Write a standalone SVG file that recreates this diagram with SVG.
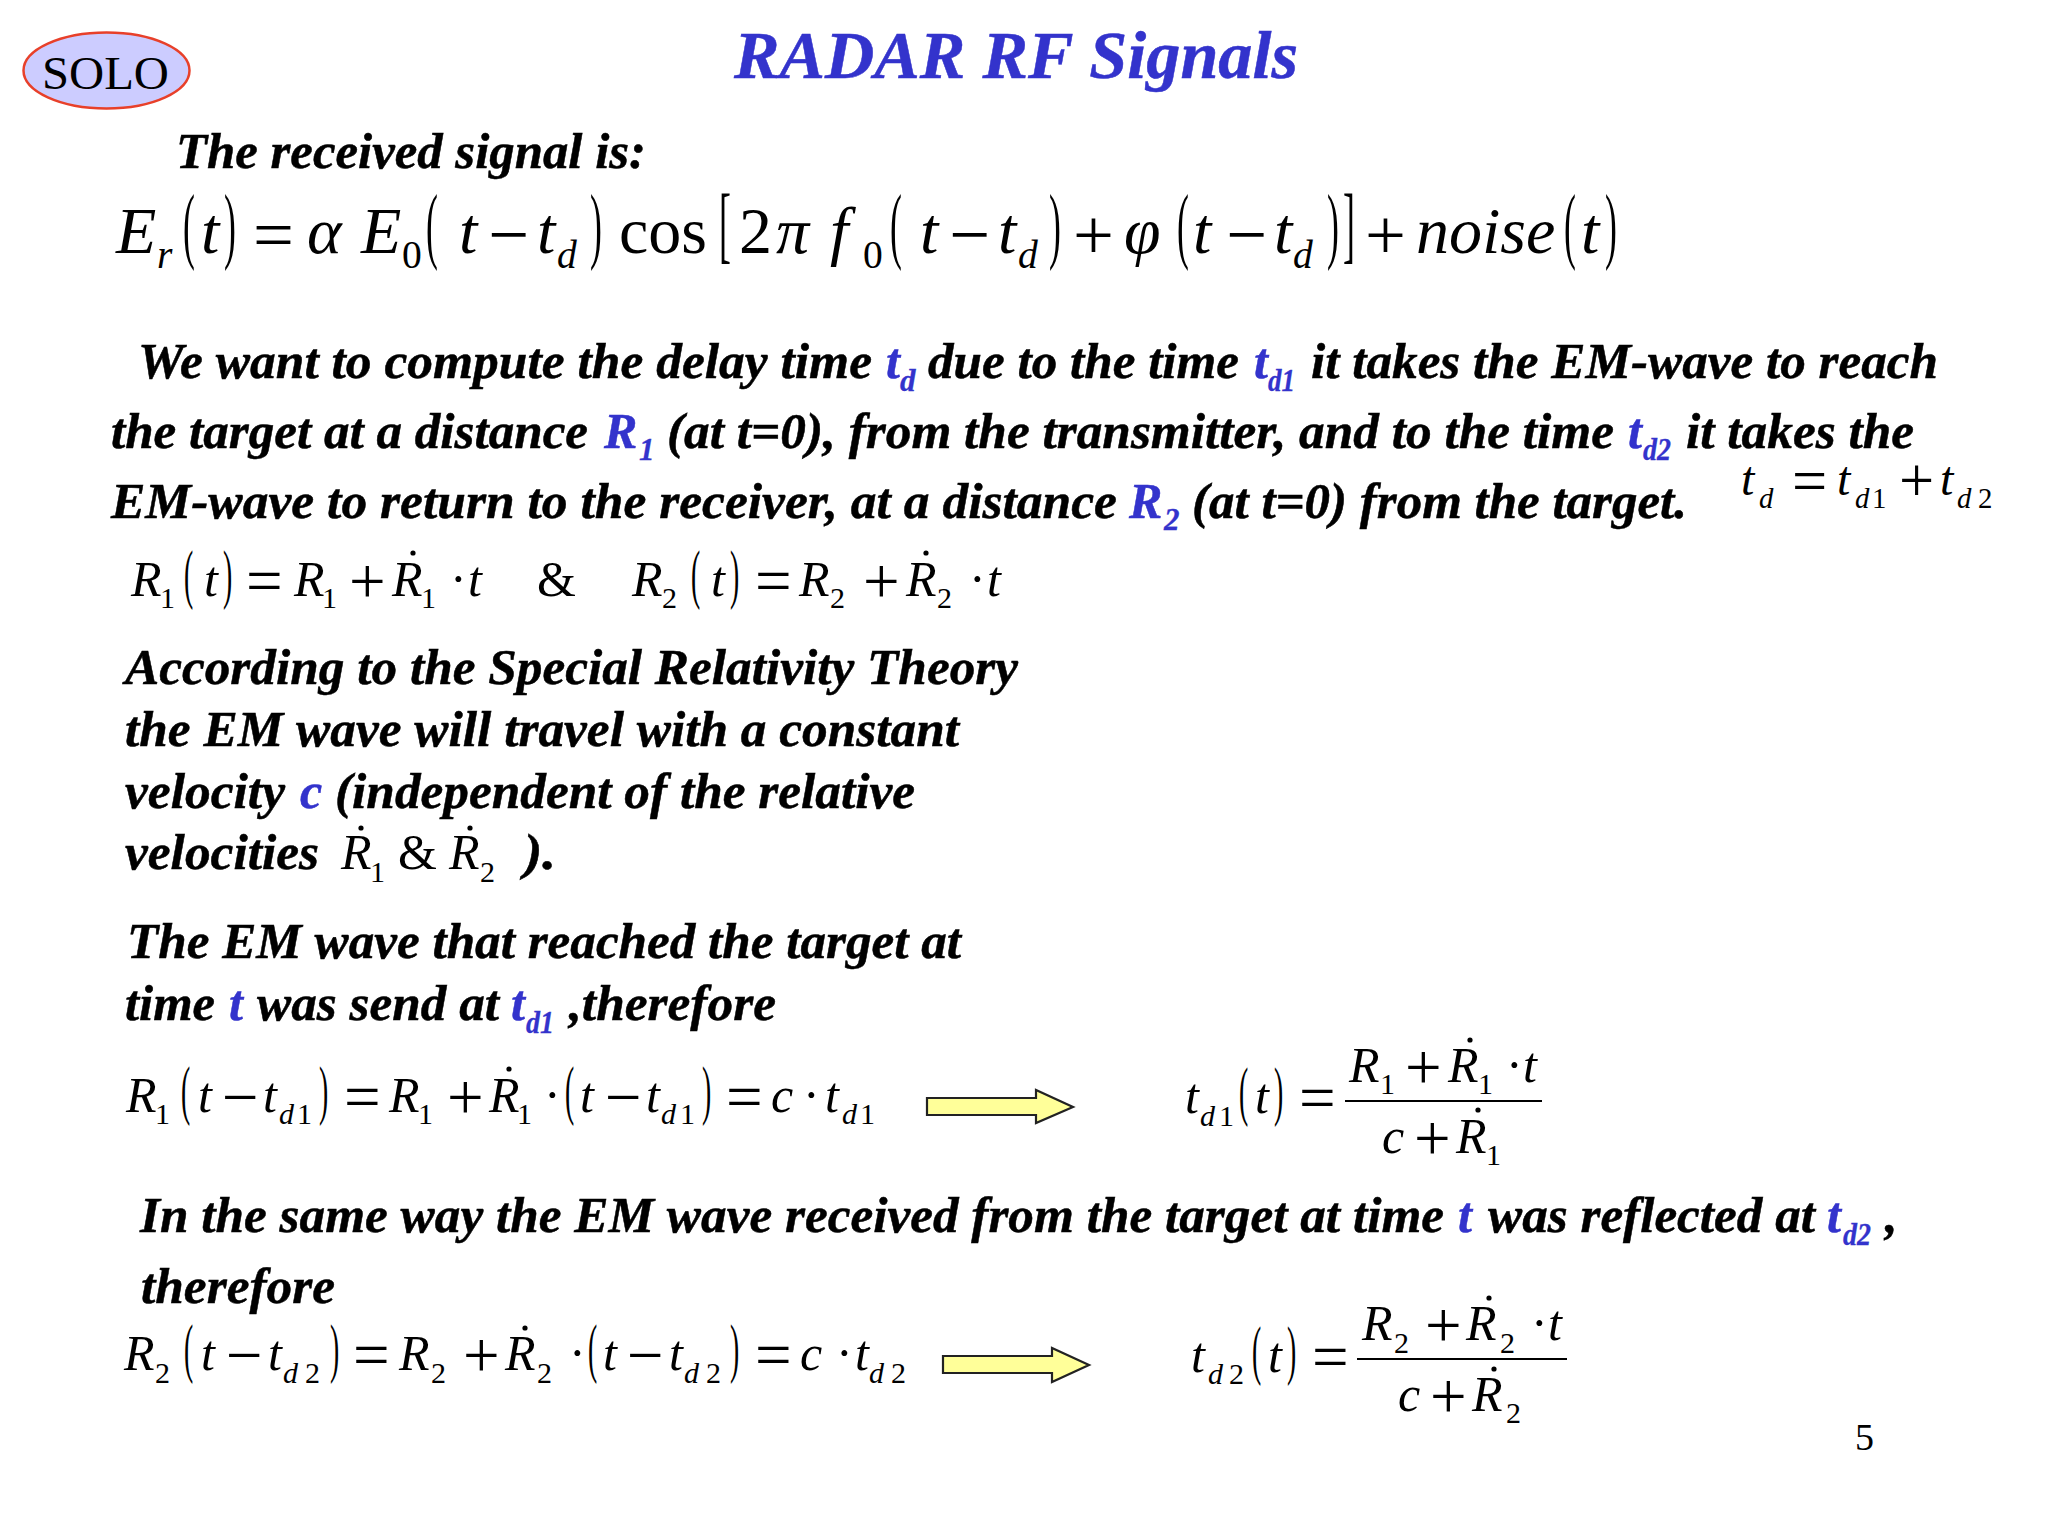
<svg xmlns="http://www.w3.org/2000/svg" width="2048" height="1536" viewBox="0 0 2048 1536">
<style>
text{font-family:"Liberation Serif","Times New Roman",serif;fill:#000;white-space:pre}
.t{font-style:italic;font-weight:bold;font-size:68px;fill:#3333cc;stroke:#3333cc;stroke-width:.5}
.b{font-style:italic;font-weight:bold;font-size:50px;stroke:#000;stroke-width:.5}
text.c{fill:#3333cc;stroke:#3333cc}
.bs{font-style:italic;font-weight:bold;font-size:31px;stroke-width:.3}
.e1{font-size:66px}
.e2{font-size:50px}
.e3{font-size:48px}
.i{font-style:italic}
.s{font-size:.6em}
.e1 .o{font-size:1.1em}
.e2 .o,.e3 .o{font-size:1.3em}
.p1{font-size:85px}
.p2{font-size:66px}
.ln{stroke:#000;stroke-width:2.2;fill:none}
.d{fill:#000}
.ar{fill:#ffff99;stroke:#222;stroke-width:2.2}
</style>
<rect width="2048" height="1536" fill="#fff"/>

<g id="solo">
<ellipse cx="106.500" cy="70.500" rx="83" ry="38" fill="#ccccff" stroke="#e8402a" stroke-width="2.500"/>
<text x="42" y="89" font-size="46" textLength="127" lengthAdjust="spacingAndGlyphs">SOLO</text>
</g>
<g id="title"><text class="t" x="734" y="78" textLength="564" lengthAdjust="spacingAndGlyphs">RADAR RF Signals</text></g>
<g id="intro"><text class="b" x="176" y="168" textLength="470" lengthAdjust="spacingAndGlyphs">The received signal is:</text></g>

<g id="eq-received">
<text class="e1"><tspan class="i" x="116" y="253">E</tspan><tspan class="i s" x="157" y="268">r</tspan><tspan class="i" x="201" y="253">t</tspan><tspan class="o" x="253" y="259">=</tspan><tspan class="i" x="307" y="253">α</tspan><tspan class="i" x="361">E</tspan><tspan class="s" x="402" y="268">0</tspan><tspan class="i" x="459" y="253">t</tspan><tspan class="o" x="488" y="259">−</tspan><tspan class="i" x="537" y="253">t</tspan><tspan class="i s" x="557" y="268">d</tspan><tspan x="619" y="253">cos</tspan><tspan x="739">2</tspan><tspan class="i" x="776">π</tspan><tspan class="i" x="830">f</tspan><tspan class="s" x="863" y="268">0</tspan><tspan class="i" x="920" y="253">t</tspan><tspan class="o" x="949" y="259">−</tspan><tspan class="i" x="998" y="253">t</tspan><tspan class="i s" x="1018" y="268">d</tspan><tspan class="o" x="1073" y="259">+</tspan><tspan class="i" x="1124" y="253">φ</tspan><tspan class="i" x="1193">t</tspan><tspan class="o" x="1226" y="259">−</tspan><tspan class="i" x="1274" y="253">t</tspan><tspan class="i s" x="1293" y="268">d</tspan><tspan class="o" x="1365" y="259">+</tspan><tspan class="i" x="1416" y="253">noise</tspan><tspan class="i" x="1581">t</tspan></text>
<g class="p1">
<text transform="translate(183 253) scale(.42 1)">(</text><text transform="translate(224 253) scale(.42 1)">)</text>
<text transform="translate(426 253) scale(.42 1)">(</text><text transform="translate(590 253) scale(.42 1)">)</text>
<text transform="translate(719 253) scale(.42 1)">[</text>
<text transform="translate(890 253) scale(.42 1)">(</text><text transform="translate(1049 253) scale(.42 1)">)</text>
<text transform="translate(1177 253) scale(.42 1)">(</text><text transform="translate(1327 253) scale(.42 1)">)</text>
<text transform="translate(1343 253) scale(.42 1)">]</text>
<text transform="translate(1564 253) scale(.42 1)">(</text><text transform="translate(1605 253) scale(.42 1)">)</text>
</g>
</g>

<g id="para-delay">
<text class="b" x="138" y="378" textLength="734" lengthAdjust="spacingAndGlyphs">We want to compute the delay time</text>
<text class="b c" x="886" y="378">t</text><text class="b bs c" x="900" y="391">d</text>
<text class="b" x="928" y="378" textLength="311" lengthAdjust="spacingAndGlyphs">due to the time</text>
<text class="b c" x="1254" y="378">t</text><text class="b bs c" x="1268" y="391" textLength="27" lengthAdjust="spacingAndGlyphs">d1</text>
<text class="b" x="1311" y="378" textLength="627" lengthAdjust="spacingAndGlyphs">it takes the EM-wave to reach</text>
<text class="b" x="111" y="448" textLength="477" lengthAdjust="spacingAndGlyphs">the target at a distance</text>
<text class="b c" x="604" y="448">R</text><text class="b bs c" x="639" y="460">1</text>
<text class="b" x="667" y="448" textLength="947" lengthAdjust="spacingAndGlyphs">(at t=0), from the transmitter, and to the time</text>
<text class="b c" x="1628" y="448">t</text><text class="b bs c" x="1643" y="460" textLength="28" lengthAdjust="spacingAndGlyphs">d2</text>
<text class="b" x="1686" y="448" textLength="228" lengthAdjust="spacingAndGlyphs">it takes the</text>
<text class="b" x="111" y="518" textLength="1006" lengthAdjust="spacingAndGlyphs">EM-wave to return to the receiver, at a distance</text>
<text class="b c" x="1129" y="518">R</text><text class="b bs c" x="1164" y="530">2</text>
<text class="b" x="1192" y="518" textLength="495" lengthAdjust="spacingAndGlyphs">(at t=0) from the target.</text>
</g>

<g id="eq-td">
<text class="e3"><tspan class="i" x="1741" y="495">t</tspan><tspan class="i s" x="1759" y="508">d</tspan><tspan class="o" x="1792" y="502">=</tspan><tspan class="i" x="1837" y="495">t</tspan><tspan class="i s" x="1855" y="508">d</tspan><tspan class="s" x="1872">1</tspan><tspan class="o" x="1899" y="502">+</tspan><tspan class="i" x="1940" y="495">t</tspan><tspan class="i s" x="1957" y="508">d</tspan><tspan class="s" x="1978">2</tspan></text>
</g>

<g id="eq-range">
<text class="e2"><tspan class="i" x="131" y="596">R</tspan><tspan class="s" x="160" y="608">1</tspan><tspan class="i" x="204" y="596">t</tspan><tspan class="o" x="246" y="603">=</tspan><tspan class="i" x="294" y="596">R</tspan><tspan class="s" x="322" y="608">1</tspan><tspan class="o" x="349" y="603">+</tspan><tspan class="i" x="392" y="596">R</tspan><tspan class="s" x="421" y="608">1</tspan><tspan x="450" y="596">·</tspan><tspan class="i" x="468">t</tspan><tspan x="537">&amp;</tspan><tspan class="i" x="632">R</tspan><tspan class="s" x="662" y="608">2</tspan><tspan class="i" x="711" y="596">t</tspan><tspan class="o" x="755" y="603">=</tspan><tspan class="i" x="799" y="596">R</tspan><tspan class="s" x="830" y="608">2</tspan><tspan class="o" x="863" y="603">+</tspan><tspan class="i" x="906" y="596">R</tspan><tspan class="s" x="937" y="608">2</tspan><tspan x="969" y="596">·</tspan><tspan class="i" x="987">t</tspan></text>
<g class="p2">
<text transform="translate(184 596) scale(.42 1)">(</text><text transform="translate(223 596) scale(.42 1)">)</text>
<text transform="translate(691 596) scale(.42 1)">(</text><text transform="translate(730 596) scale(.42 1)">)</text>
</g>
<circle class="d" cx="413" cy="553" r="2.600"/><circle class="d" cx="926" cy="553" r="2.600"/>
</g>

<g id="para-relativity">
<text class="b" x="125" y="684" textLength="893" lengthAdjust="spacingAndGlyphs">According to the Special Relativity Theory</text>
<text class="b" x="125" y="746" textLength="834" lengthAdjust="spacingAndGlyphs">the EM wave will travel with a constant</text>
<text class="b" x="125" y="808" textLength="160" lengthAdjust="spacingAndGlyphs">velocity</text>
<text class="b c" x="300" y="808">c</text>
<text class="b" x="335" y="808" textLength="580" lengthAdjust="spacingAndGlyphs">(independent of the relative</text>
<text class="b" x="125" y="869" textLength="194" lengthAdjust="spacingAndGlyphs">velocities</text>
<text class="e2"><tspan class="i" x="341" y="869">R</tspan><tspan class="s" x="370" y="882">1</tspan><tspan x="398" y="869">&amp;</tspan><tspan class="i" x="449">R</tspan><tspan class="s" x="480" y="882">2</tspan></text>
<circle class="d" cx="361" cy="828" r="2.600"/><circle class="d" cx="470" cy="828" r="2.600"/>
<text class="b" x="524" y="869" textLength="32" lengthAdjust="spacingAndGlyphs">).</text>
</g>

<g id="para-reached">
<text class="b" x="127" y="958" textLength="834" lengthAdjust="spacingAndGlyphs">The EM wave that reached the target at</text>
<text class="b" x="125" y="1020" textLength="90" lengthAdjust="spacingAndGlyphs">time</text>
<text class="b c" x="229" y="1020">t</text>
<text class="b" x="257" y="1020" textLength="242" lengthAdjust="spacingAndGlyphs">was send at</text>
<text class="b c" x="511" y="1020">t</text><text class="b bs c" x="526" y="1033" textLength="28" lengthAdjust="spacingAndGlyphs">d1</text>
<text class="b" x="569" y="1020" textLength="207" lengthAdjust="spacingAndGlyphs">,therefore</text>
</g>

<g id="eq-r1">
<text class="e2"><tspan class="i" x="126" y="1112">R</tspan><tspan class="s" x="155" y="1124">1</tspan><tspan class="i" x="198" y="1112">t</tspan><tspan class="o" x="222" y="1119">−</tspan><tspan class="i" x="263" y="1112">t</tspan><tspan class="i s" x="279" y="1124">d</tspan><tspan class="s" x="297">1</tspan><tspan class="o" x="344" y="1119">=</tspan><tspan class="i" x="389" y="1112">R</tspan><tspan class="s" x="418" y="1124">1</tspan><tspan class="o" x="447" y="1119">+</tspan><tspan class="i" x="489" y="1112">R</tspan><tspan class="s" x="517" y="1124">1</tspan><tspan x="544" y="1112">·</tspan><tspan class="i" x="580">t</tspan><tspan class="o" x="605" y="1119">−</tspan><tspan class="i" x="646" y="1112">t</tspan><tspan class="i s" x="661" y="1124">d</tspan><tspan class="s" x="680">1</tspan><tspan class="o" x="726" y="1119">=</tspan><tspan class="i" x="771" y="1112">c</tspan><tspan x="803">·</tspan><tspan class="i" x="825">t</tspan><tspan class="i s" x="842" y="1124">d</tspan><tspan class="s" x="860">1</tspan></text>
<g class="p2">
<text transform="translate(181 1112) scale(.42 1)">(</text><text transform="translate(319 1112) scale(.42 1)">)</text>
<text transform="translate(565 1112) scale(.42 1)">(</text><text transform="translate(702 1112) scale(.42 1)">)</text>
</g>
<circle class="d" cx="509" cy="1069" r="2.600"/>
</g>

<g id="eq-td1">
<text class="e2"><tspan class="i" x="1185" y="1113">t</tspan><tspan class="i s" x="1200" y="1126">d</tspan><tspan class="s" x="1219">1</tspan><tspan class="i" x="1255" y="1113">t</tspan><tspan class="o" x="1299" y="1120">=</tspan><tspan class="i" x="1349" y="1082">R</tspan><tspan class="s" x="1380" y="1094">1</tspan><tspan class="o" x="1405" y="1089">+</tspan><tspan class="i" x="1448" y="1082">R</tspan><tspan class="s" x="1478" y="1094">1</tspan><tspan x="1506" y="1082">·</tspan><tspan class="i" x="1523">t</tspan><tspan class="i" x="1382" y="1153">c</tspan><tspan class="o" x="1414" y="1160">+</tspan><tspan class="i" x="1456" y="1153">R</tspan><tspan class="s" x="1486" y="1165">1</tspan></text>
<g class="p2">
<text transform="translate(1239 1113) scale(.42 1)">(</text><text transform="translate(1274 1113) scale(.42 1)">)</text>
</g>
<line class="ln" x1="1345" y1="1101" x2="1542" y2="1101"/>
<circle class="d" cx="1470" cy="1040" r="2.600"/><circle class="d" cx="1478" cy="1110" r="2.600"/>
</g>

<g id="para-reflected">
<text class="b" x="140" y="1232" textLength="1304" lengthAdjust="spacingAndGlyphs">In the same way the EM wave received from the target at time</text>
<text class="b c" x="1458" y="1232">t</text>
<text class="b" x="1488" y="1232" textLength="327" lengthAdjust="spacingAndGlyphs">was reflected at</text>
<text class="b c" x="1827" y="1232">t</text><text class="b bs c" x="1843" y="1245" textLength="28" lengthAdjust="spacingAndGlyphs">d2</text>
<text class="b" x="1885" y="1232">,</text>
<text class="b" x="141" y="1303" textLength="194" lengthAdjust="spacingAndGlyphs">therefore</text>
</g>

<g id="eq-r2">
<text class="e2"><tspan class="i" x="124" y="1370">R</tspan><tspan class="s" x="155" y="1383">2</tspan><tspan class="i" x="201" y="1370">t</tspan><tspan class="o" x="226" y="1377">−</tspan><tspan class="i" x="268" y="1370">t</tspan><tspan class="i s" x="283" y="1383">d</tspan><tspan class="s" x="305">2</tspan><tspan class="o" x="353" y="1377">=</tspan><tspan class="i" x="399" y="1370">R</tspan><tspan class="s" x="431" y="1383">2</tspan><tspan class="o" x="463" y="1377">+</tspan><tspan class="i" x="505" y="1370">R</tspan><tspan class="s" x="537" y="1383">2</tspan><tspan x="569" y="1370">·</tspan><tspan class="i" x="603">t</tspan><tspan class="o" x="627" y="1377">−</tspan><tspan class="i" x="669" y="1370">t</tspan><tspan class="i s" x="684" y="1383">d</tspan><tspan class="s" x="706">2</tspan><tspan class="o" x="755" y="1377">=</tspan><tspan class="i" x="800" y="1370">c</tspan><tspan x="836">·</tspan><tspan class="i" x="855">t</tspan><tspan class="i s" x="869" y="1383">d</tspan><tspan class="s" x="891">2</tspan></text>
<g class="p2">
<text transform="translate(184 1370) scale(.42 1)">(</text><text transform="translate(330 1370) scale(.42 1)">)</text>
<text transform="translate(588 1370) scale(.42 1)">(</text><text transform="translate(730 1370) scale(.42 1)">)</text>
</g>
<circle class="d" cx="525" cy="1328" r="2.600"/>
</g>

<g id="eq-td2">
<text class="e2"><tspan class="i" x="1191" y="1372">t</tspan><tspan class="i s" x="1208" y="1384">d</tspan><tspan class="s" x="1229">2</tspan><tspan class="i" x="1268" y="1372">t</tspan><tspan class="o" x="1312" y="1379">=</tspan><tspan class="i" x="1362" y="1340">R</tspan><tspan class="s" x="1394" y="1353">2</tspan><tspan class="o" x="1425" y="1347">+</tspan><tspan class="i" x="1466" y="1340">R</tspan><tspan class="s" x="1500" y="1353">2</tspan><tspan x="1531" y="1340">·</tspan><tspan class="i" x="1548">t</tspan><tspan class="i" x="1398" y="1411">c</tspan><tspan class="o" x="1430" y="1418">+</tspan><tspan class="i" x="1472" y="1411">R</tspan><tspan class="s" x="1506" y="1423">2</tspan></text>
<g class="p2">
<text transform="translate(1252 1372) scale(.42 1)">(</text><text transform="translate(1287 1372) scale(.42 1)">)</text>
</g>
<line class="ln" x1="1357" y1="1359" x2="1567" y2="1359"/>
<circle class="d" cx="1489" cy="1298" r="2.600"/><circle class="d" cx="1494" cy="1369" r="2.600"/>
</g>

<g id="connectors">
<polygon class="ar" points="927,1098 1036,1098 1036,1090 1073,1107 1036,1123 1036,1115 927,1115"/>
<polygon class="ar" points="943,1356 1052,1356 1052,1348 1089,1365 1052,1382 1052,1373 943,1373"/>
</g>

<g id="page-number"><text x="1855" y="1450" font-size="38">5</text></g>
</svg>
